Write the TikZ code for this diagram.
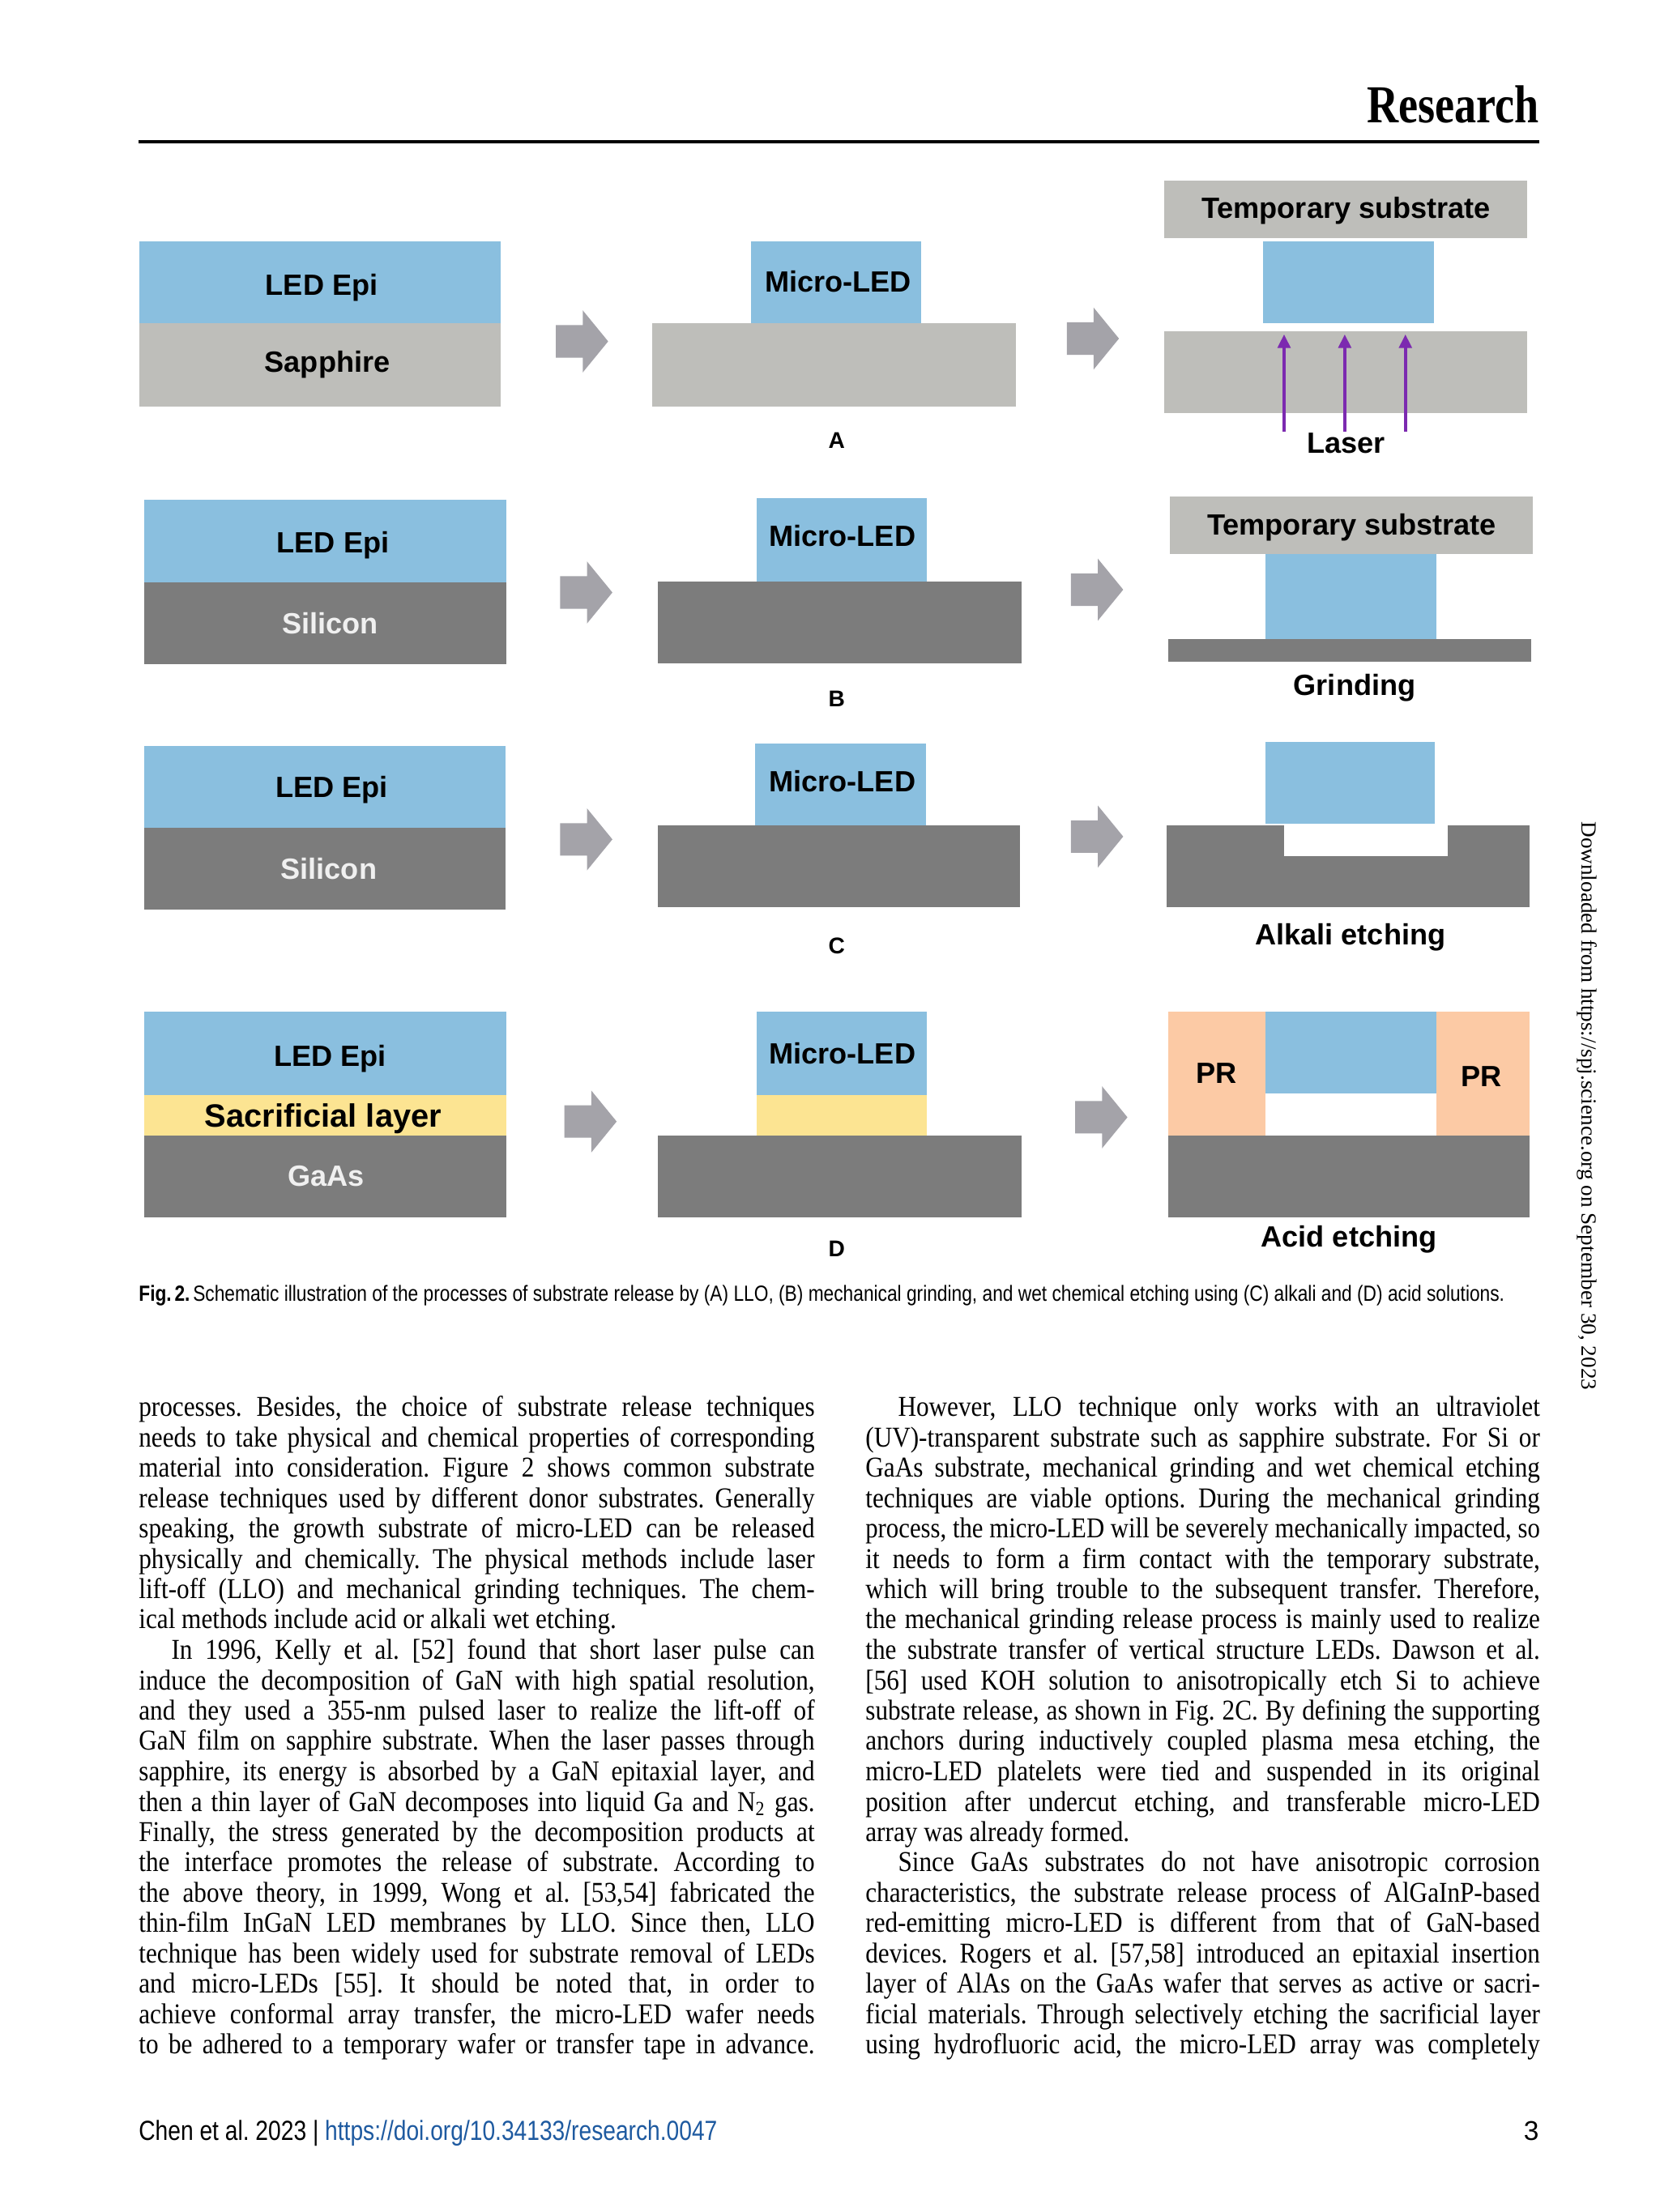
\documentclass[tikz,border=0pt]{standalone}
\usepackage{fontspec}
\usepackage{graphicx}
\setmainfont{Liberation Serif}
\newfontfamily\bodyf{Liberation Serif}[FakeStretch=0.88]
\newfontfamily\sansf{Liberation Sans}
\usetikzlibrary{arrows.meta}
\definecolor{epiblue}{RGB}{138,191,223}
\definecolor{sapph}{RGB}{190,190,186}
\definecolor{sil}{RGB}{124,124,124}
\definecolor{sacy}{RGB}{252,228,146}
\definecolor{peach}{RGB}{252,202,165}
\definecolor{agray}{RGB}{164,163,169}
\definecolor{laserp}{RGB}{124,42,176}
\definecolor{urlblue}{RGB}{30,90,160}
\definecolor{labwhite}{RGB}{240,240,240}
\frenchspacing
\newsavebox\fitbx
\newlength\colw
\setlength\colw{249.28pt}
\newcommand\fitto[2]{\sbox\fitbx{#2}\pgfmathsetmacro\fitf{#1*0.52041/\the\wd\fitbx}\scalebox{\fitf}[1]{\usebox\fitbx}}
\newcommand\jl[1]{\sbox\fitbx{#1}\ifdim\wd\fitbx>\colw\pgfmathsetmacro\fitf{\the\colw/\the\wd\fitbx}\scalebox{\fitf}[1]{\usebox\fitbx}\else\makebox[\colw][s]{#1}\fi}
\newcommand\IND{\hspace*{12pt}}
\begin{document}
\begin{tikzpicture}[x=0.52041pt,y=-0.52041pt,
  lab/.style={font=\sansf\bfseries\fontsize{10.8}{13}\selectfont, anchor=base, inner sep=0},
  wlab/.style={lab, text=labwhite},
  letter/.style={font=\sansf\bfseries\fontsize{8.4}{10}\selectfont, anchor=base, inner sep=0},
  bl/.style={anchor=base west, inner sep=0, font=\bodyf\fontsize{10.6}{11.2}\selectfont},
  laser/.style={draw=laserp, line width=1.2pt, -{Triangle[length=5pt,width=4.6pt]}},
  blockarrow/.pic={\fill[agray] (0,-11.5) -- (19,-11.5) -- (19,-22) -- (37,0) -- (19,22) -- (19,11.5) -- (0,11.5) -- cycle;}
]
\useasboundingbox (0,0) rectangle (1176,1568);
\fill[white] (0,0) rectangle (1176,1568);

% header
\node[anchor=base east, inner sep=0] (head) at (1091,87) {\fitto{122}{\bfseries\fontsize{19.7}{22}\selectfont Research}};
\coordinate (rl) at (98,100.6);
\coordinate (rr) at (1091,100.6);
\draw[line width=1.2pt] (rl) -- (rr);

% ---------- Row A ----------
\fill[epiblue] (99,171) rectangle (355,229);
\fill[sapph] (99,229) rectangle (355,288);
\node[lab] (aepi) at (228,209) {LED Epi};
\node[lab] (asap) at (232,264) {Sapphire};
\pic (aar1) at (394,242) {blockarrow};
\fill[epiblue] (532,171) rectangle (653,229);
\fill[sapph] (462,229) rectangle (720,288);
\node[lab] (amic) at (594,207) {Micro-LED};
\node[letter] (alet) at (593,318) {A};
\pic (aar2) at (756,240) {blockarrow};
\fill[sapph] (825,128) rectangle (1082,169);
\node[lab] (atmp) at (954,155) {Temporary substrate};
\fill[epiblue] (895,171) rectangle (1016,229);
\fill[sapph] (825,235) rectangle (1082,293);
\node[lab] (alas) at (954,321) {Laser};
\foreach \xx [count=\i] in {910,953,996}{
  \coordinate (ls\i) at (\xx,306);
  \coordinate (le\i) at (\xx,237);
  \draw[laser] (ls\i) -- (le\i);
}

% ---------- Row B ----------
\fill[epiblue] (102,354) rectangle (359,413);
\fill[sil] (102,413) rectangle (359,471);
\node[lab] (bepi) at (236,392) {LED Epi};
\node[wlab] (bsil) at (234,449) {Silicon};
\pic (bar1) at (397,420) {blockarrow};
\fill[epiblue] (536,353) rectangle (657,412);
\fill[sil] (466,412) rectangle (724,470);
\node[lab] (bmic) at (597,387) {Micro-LED};
\node[letter] (blet) at (593,501) {B};
\pic (bar2) at (759,418) {blockarrow};
\fill[sapph] (829,352) rectangle (1086,393);
\node[lab] (btmp) at (958,379) {Temporary substrate};
\fill[epiblue] (897,393) rectangle (1018,453);
\fill[sil] (828,453) rectangle (1085,469);
\node[lab] (bgri) at (960,493) {Grinding};

% ---------- Row C ----------
\fill[epiblue] (102,529) rectangle (358,587);
\fill[sil] (102,587) rectangle (358,645);
\node[lab] (cepi) at (235,565) {LED Epi};
\node[wlab] (csil) at (233,623) {Silicon};
\pic (car1) at (397,595) {blockarrow};
\fill[epiblue] (535,527) rectangle (656,585);
\fill[sil] (466,585) rectangle (723,643);
\node[lab] (cmic) at (597,561) {Micro-LED};
\node[letter] (clet) at (593,676) {C};
\pic (car2) at (759,593) {blockarrow};
\fill[epiblue] (897,526) rectangle (1017,584);
\fill[sil] (827,585) rectangle (1084,643);
\fill[white] (910,585) rectangle (1026,607);
\node[lab] (calk) at (957,670) {Alkali etching};

% ---------- Row D ----------
\fill[epiblue] (102,717) rectangle (359,776);
\fill[sacy] (102,776) rectangle (359,805);
\fill[sil] (102,805) rectangle (359,863);
\node[lab] (depi) at (234,756) {LED Epi};
\node[lab, font=\sansf\bfseries\fontsize{11.9}{14}\selectfont] (dsac) at (229,799) {Sacrificial layer};
\node[wlab] (dgaa) at (231,841) {GaAs};
\pic (dar1) at (400,795) {blockarrow};
\fill[epiblue] (536,717) rectangle (657,776);
\fill[sacy] (536,776) rectangle (657,805);
\fill[sil] (466,805) rectangle (724,863);
\node[lab] (dmic) at (597,754) {Micro-LED};
\node[letter] (dlet) at (593,891) {D};
\pic (dar2) at (762,792) {blockarrow};
\fill[peach] (828,717) rectangle (897,805);
\fill[epiblue] (897,717) rectangle (1018,775);
\fill[peach] (1018,717) rectangle (1084,805);
\fill[sil] (828,805) rectangle (1084,863);
\node[lab] (dpr1) at (862,768) {PR};
\node[lab] (dpr2) at (1050,770) {PR};
\node[lab] (dacd) at (956,884) {Acid etching};

% caption
\node[anchor=base west, inner sep=0] (cap) at (98,922.5) {\fitto{968}{\sansf\fontsize{8.1}{9}\selectfont\textbf{Fig.\,2.}\,Schematic illustration of the processes of substrate release by (A) LLO, (B) mechanical grinding, and wet chemical etching using (C) alkali and (D) acid solutions.}};

% side note
\node[anchor=base west, rotate=-90, inner sep=0] (side) at (1121,582) {\fitto{403}{\fontsize{8}{10}\selectfont Downloaded from https://spj.science.org on September 30, 2023}};

% left column
\node[bl] (L1) at (98,1004) {\jl{processes. Besides, the choice of substrate release techniques}};
\node[bl] (L2) at (98,1025.5) {\jl{needs to take physical and chemical properties of corresponding}};
\node[bl] (L3) at (98,1047.0) {\jl{material into consideration. Figure 2 shows common substrate}};
\node[bl] (L4) at (98,1068.6) {\jl{release techniques used by different donor substrates. Generally}};
\node[bl] (L5) at (98,1090.1) {\jl{speaking, the growth substrate of micro-LED can be released}};
\node[bl] (L6) at (98,1111.6) {\jl{physically and chemically. The physical methods include laser}};
\node[bl] (L7) at (98,1133.1) {\jl{lift-off (LLO) and mechanical grinding techniques. The chem-}};
\node[bl] (L8) at (98,1154.6) {ical methods include acid or alkali wet etching.};
\node[bl] (L9) at (98,1176.2) {\jl{\IND In 1996, Kelly et al. [52] found that short laser pulse can}};
\node[bl] (L10) at (98,1197.7) {\jl{induce the decomposition of GaN with high spatial resolution,}};
\node[bl] (L11) at (98,1219.2) {\jl{and they used a 355-nm pulsed laser to realize the lift-off of}};
\node[bl] (L12) at (98,1240.7) {\jl{GaN film on sapphire substrate. When the laser passes through}};
\node[bl] (L13) at (98,1262.2) {\jl{sapphire, its energy is absorbed by a GaN epitaxial layer, and}};
\node[bl] (L14) at (98,1283.8) {\jl{then a thin layer of GaN decomposes into liquid Ga and N\textsubscript{2} gas.}};
\node[bl] (L15) at (98,1305.3) {\jl{Finally, the stress generated by the decomposition products at}};
\node[bl] (L16) at (98,1326.8) {\jl{the interface promotes the release of substrate. According to}};
\node[bl] (L17) at (98,1348.3) {\jl{the above theory, in 1999, Wong et al. [53,54] fabricated the}};
\node[bl] (L18) at (98,1369.8) {\jl{thin-film InGaN LED membranes by LLO. Since then, LLO}};
\node[bl] (L19) at (98,1391.4) {\jl{technique has been widely used for substrate removal of LEDs}};
\node[bl] (L20) at (98,1412.9) {\jl{and micro-LEDs [55]. It should be noted that, in order to}};
\node[bl] (L21) at (98,1434.4) {\jl{achieve conformal array transfer, the micro-LED wafer needs}};
\node[bl] (L22) at (98,1455.9) {\jl{to be adhered to a temporary wafer or transfer tape in advance.}};

% right column
\setlength\colw{248.76pt}
\node[bl] (R1) at (613,1004) {\jl{\IND However, LLO technique only works with an ultraviolet}};
\node[bl] (R2) at (613,1025.5) {\jl{(UV)-transparent substrate such as sapphire substrate. For Si or}};
\node[bl] (R3) at (613,1047.0) {\jl{GaAs substrate, mechanical grinding and wet chemical etching}};
\node[bl] (R4) at (613,1068.6) {\jl{techniques are viable options. During the mechanical grinding}};
\node[bl] (R5) at (613,1090.1) {\jl{process, the micro-LED will be severely mechanically impacted, so}};
\node[bl] (R6) at (613,1111.6) {\jl{it needs to form a firm contact with the temporary substrate,}};
\node[bl] (R7) at (613,1133.1) {\jl{which will bring trouble to the subsequent transfer. Therefore,}};
\node[bl] (R8) at (613,1154.6) {\jl{the mechanical grinding release process is mainly used to realize}};
\node[bl] (R9) at (613,1176.2) {\jl{the substrate transfer of vertical structure LEDs. Dawson et al.}};
\node[bl] (R10) at (613,1197.7) {\jl{[56] used KOH solution to anisotropically etch Si to achieve}};
\node[bl] (R11) at (613,1219.2) {\jl{substrate release, as shown in Fig. 2C. By defining the supporting}};
\node[bl] (R12) at (613,1240.7) {\jl{anchors during inductively coupled plasma mesa etching, the}};
\node[bl] (R13) at (613,1262.2) {\jl{micro-LED platelets were tied and suspended in its original}};
\node[bl] (R14) at (613,1283.8) {\jl{position after undercut etching, and transferable micro-LED}};
\node[bl] (R15) at (613,1305.3) {array was already formed.};
\node[bl] (R16) at (613,1326.8) {\jl{\IND Since GaAs substrates do not have anisotropic corrosion}};
\node[bl] (R17) at (613,1348.3) {\jl{characteristics, the substrate release process of AlGaInP-based}};
\node[bl] (R18) at (613,1369.8) {\jl{red-emitting micro-LED is different from that of GaN-based}};
\node[bl] (R19) at (613,1391.4) {\jl{devices. Rogers et al. [57,58] introduced an epitaxial insertion}};
\node[bl] (R20) at (613,1412.9) {\jl{layer of AlAs on the GaAs wafer that serves as active or sacri-}};
\node[bl] (R21) at (613,1434.4) {\jl{ficial materials. Through selectively etching the sacrificial layer}};
\node[bl] (R22) at (613,1455.9) {\jl{using hydrofluoric acid, the micro-LED array was completely}};

% footer
\node[anchor=base west, inner sep=0] (foot) at (98,1517) {\fitto{410}{\sansf\fontsize{10.2}{12}\selectfont Chen et al. 2023 | \textcolor{urlblue}{https://doi.org/10.34133/research.0047}}};
\node[anchor=base east, inner sep=0] (pnum) at (1091,1517) {\sansf\fontsize{10}{12}\selectfont 3};
\end{tikzpicture}
\end{document}
